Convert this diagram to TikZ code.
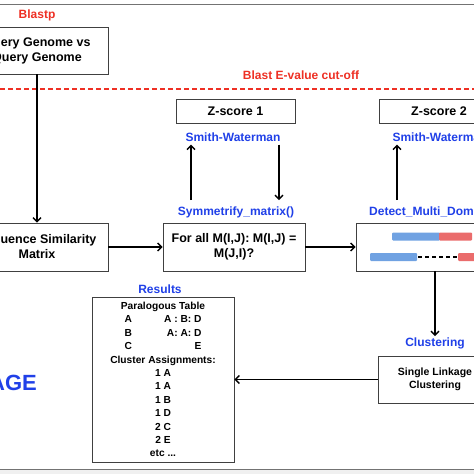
\documentclass[tikz,border=0pt]{standalone}
\usepackage{fontspec}
\setmainfont{Liberation Sans}
\usetikzlibrary{arrows.meta}
\definecolor{cutred}{RGB}{238,48,36}
\definecolor{labblue}{RGB}{32,64,232}
\definecolor{barblue}{RGB}{112,162,226}
\definecolor{barred}{RGB}{234,108,108}
\tikzset{
  box/.style={draw=black!75,line width=0.8pt,fill=white,align=center,font=\bfseries\fontsize{12.5}{15}\selectfont,inner sep=2pt},
  lab/.style={font=\bfseries\fontsize{12}{14}\selectfont,inner sep=1pt},
  arr/.style={-{Straight Barb[length=4pt,width=8pt]},line width=1.4pt},
}
\begin{document}
\begin{tikzpicture}[x=1pt,y=-1pt]
  \useasboundingbox (0,0) rectangle (474,474);
  \clip (0,0) rectangle (474,474);
  \fill[white] (0,0) rectangle (474,474);
  % frame
  \fill[black!6] (0,469) rectangle (474,474);
  \draw[black!55,line width=1pt] (0,4) -- (474,4);
  \draw[black!55,line width=1pt] (0,469) -- (474,469);
  % blast step
  \node[lab,text=cutred] (blastp) at (37,15) {Blastp};
  \node[box,minimum width=143pt,minimum height=47pt] (qgenome) at (37,50.5) {Query Genome vs\\Query Genome};
  \coordinate (cutL) at (0,89);
  \coordinate (cutR) at (474,89);
  \draw[cutred,line width=1.8pt,dash pattern=on 5pt off 3pt] (cutL) -- (cutR);
  \node[lab,text=cutred] (cutoff) at (301,75) {Blast E-value cut-off};
  % z-scores
  \node[box,minimum width=119pt,minimum height=24pt] (zscoreA) at (235.5,111) {Z-score 1};
  \node[box,minimum width=119pt,minimum height=24pt] (zscoreB) at (439,111) {Z-score 2};
  \node[lab,text=labblue] (swA) at (233,137) {Smith-Waterman};
  \node[lab,text=labblue] (swB) at (440,137) {Smith-Waterman};
  \node[lab,text=labblue] (symlab) at (236,212) {Symmetrify\_matrix()};
  \node[lab,text=labblue,anchor=west] (domlab) at (368,212) {Detect\_Multi\_Domain()};
  % middle row
  \node[box,minimum width=142pt,minimum height=48pt] (seqsim) at (37,247) {Sequence Similarity\\Matrix};
  \node[box,minimum width=142pt,minimum height=48pt] (symcheck) at (234,247) {For all M(I,J): M(I,J) =\\M(J,I)?};
  \node[box,minimum width=166pt,minimum height=48pt] (domainbox) at (439,247) {};
  % domain bars
  \fill[barblue,rounded corners=1pt] (392,232.5) rectangle (440,240.5);
  \fill[barred,rounded corners=1pt] (439,232.5) rectangle (472,240.5);
  \fill[barblue,rounded corners=1pt] (370,253) rectangle (417,261);
  \draw[black,line width=1.4pt,dash pattern=on 4pt off 3pt] (418,257) -- (457,257);
  \fill[barred,rounded corners=1pt] (458,253) rectangle (490,261);
  % clustering
  \node[lab,text=labblue] (clustlab) at (435,343) {Clustering};
  \node[box,minimum width=114pt,minimum height=47pt,font=\bfseries\fontsize{10.5}{13}\selectfont] (linkage) at (435,379.5) {Single Linkage\\Clustering};
  % results
  \node[lab,text=labblue] (reslab) at (160,289) {Results};
  \node[box,minimum width=142pt,minimum height=165pt,font=\bfseries\fontsize{10.2}{13.4}\selectfont] (results) at (163,379.5)
    {Paralogous Table\\\makebox[77pt]{A\hfill A : B: D}\\\makebox[77pt]{B\hfill A: A: D}\\\makebox[77pt]{C\hfill E}\\Cluster Assignments:\\1 A\\1 A\\1 B\\1 D\\2 C\\2 E\\etc ...};
  \node[anchor=east,text=labblue,font=\bfseries\fontsize{22}{24}\selectfont,inner sep=0pt] (pagelab) at (37,383) {AGE};
  % connectors
  \draw[arr] (qgenome.south) -- (seqsim.north);
  \draw[arr] (seqsim.east) -- (symcheck.west);
  \draw[arr] (symcheck.east) -- (domainbox.west);
  \draw[arr,shorten <=5pt,shorten >=2pt] ([xshift=-45pt]symlab.north) -- ([xshift=-42pt]swA.south);
  \draw[arr,shorten <=2pt,shorten >=5pt] ([xshift=46pt]swA.south) -- ([xshift=43pt]symlab.north);
  \draw[arr,shorten <=5pt,shorten >=2pt] ([xshift=29pt]domlab.north west) -- ([xshift=-43pt]swB.south);
  \draw[arr] (domainbox.south -| clustlab.north) -- (clustlab.north);
  \draw[arr] (linkage.west) -- (results.east |- linkage.west);
\end{tikzpicture}
\end{document}
